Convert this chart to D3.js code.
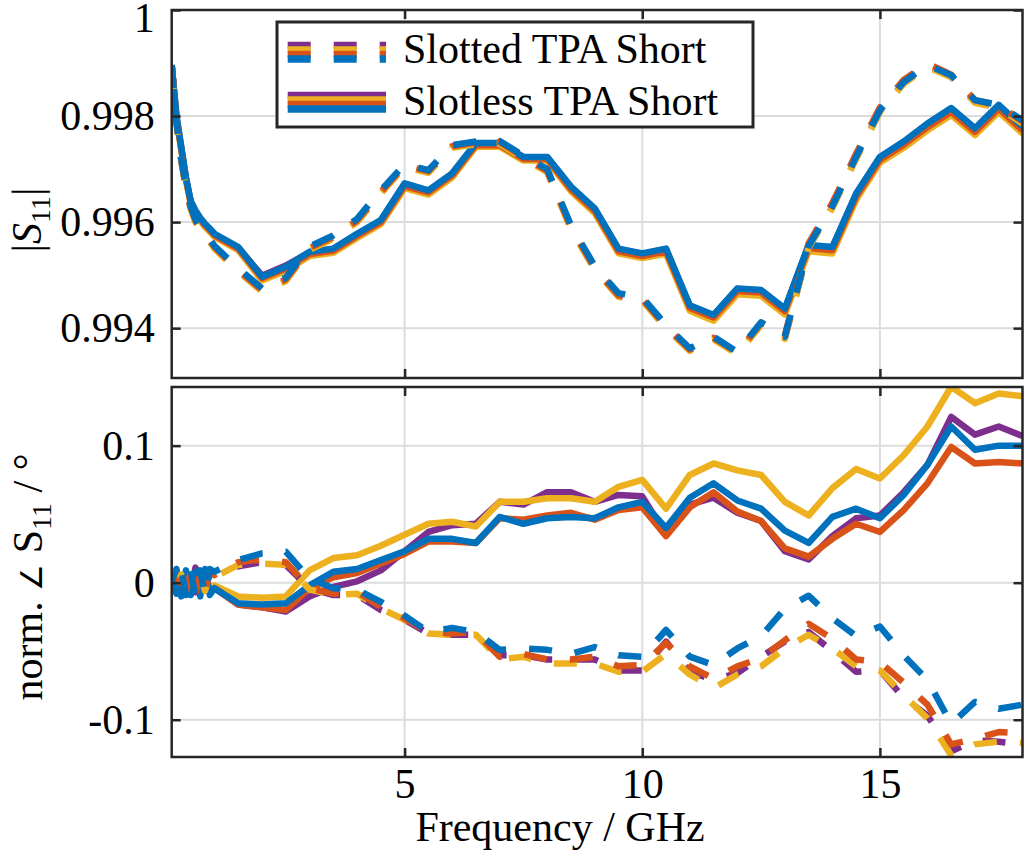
<!DOCTYPE html>
<html>
<head>
<meta charset="utf-8">
<script src="https://cdn.jsdelivr.net/npm/d3@7"></script>
<style>
    body { margin: 0; background: #fff; }
    svg { display: block; font-family: 'Liberation Serif', 'Times New Roman', serif; }
</style>
</head>
<body>
<svg id="chart" width="1025" height="852"></svg>
<script>
// frequency grid in GHz (dense below 1 GHz)
const freq = [0.1, 0.2, 0.3, 0.4, 0.5, 0.6, 0.7, 0.8, 0.9, 1.0,
    1.5, 2, 2.5, 3, 3.5, 4, 4.5, 5, 5.5, 6, 6.5, 7, 7.5, 8, 8.5, 9, 9.5, 10,
    10.5, 11, 11.5, 12, 12.5, 13, 13.5, 14, 14.5, 15, 15.5, 16, 16.5, 17, 17.5, 18];

// |S11|, slotless (solid)
const purpleSolidMag = [0.99895,0.99799,0.99741,0.99683,0.99639,0.99621,0.99607,0.99596,0.99587,0.99577,0.99552,0.99499,0.99518,0.99543,0.99549,0.99577,0.99603,0.99672,0.99659,0.99691,0.99748,0.99748,0.99722,0.99722,0.99666,0.99625,0.99549,0.99540,0.99549,0.99442,0.99424,0.99474,0.99471,0.99436,0.99556,0.99552,0.99653,0.99722,0.99751,0.99785,0.99814,0.99776,0.99820,0.99779];
const yellowSolidMag = [0.99892,0.99794,0.99736,0.99678,0.99634,0.99616,0.99602,0.99591,0.99582,0.99572,0.99547,0.99490,0.99508,0.99536,0.99542,0.99570,0.99596,0.99664,0.99652,0.99684,0.99742,0.99742,0.99716,0.99716,0.99658,0.99617,0.99541,0.99532,0.99540,0.99433,0.99414,0.99464,0.99461,0.99426,0.99545,0.99541,0.99642,0.99712,0.99740,0.99773,0.99802,0.99764,0.99808,0.99767];
const orangeSolidMag = [0.99894,0.99797,0.99739,0.99681,0.99637,0.99619,0.99605,0.99594,0.99585,0.99575,0.99550,0.99494,0.99512,0.99540,0.99546,0.99574,0.99600,0.99668,0.99656,0.99688,0.99745,0.99745,0.99719,0.99719,0.99662,0.99621,0.99545,0.99536,0.99545,0.99438,0.99420,0.99470,0.99467,0.99432,0.99551,0.99547,0.99648,0.99717,0.99746,0.99779,0.99808,0.99770,0.99814,0.99773];
const blueSolidMag = [0.99896,0.99800,0.99742,0.99684,0.99640,0.99622,0.99608,0.99597,0.99588,0.99578,0.99553,0.99497,0.99516,0.99544,0.99550,0.99578,0.99604,0.99673,0.99660,0.99692,0.99749,0.99749,0.99723,0.99723,0.99667,0.99626,0.99550,0.99541,0.99550,0.99443,0.99425,0.99475,0.99472,0.99437,0.99557,0.99553,0.99654,0.99723,0.99752,0.99786,0.99815,0.99777,0.99821,0.99780];

// |S11|, slotted (dashed)
const purpleSlottedMag = [0.99895,0.99789,0.99718,0.99665,0.99627,0.99602,0.99587,0.99577,0.99565,0.99552,0.99509,0.99471,0.99491,0.99550,0.99571,0.99602,0.99656,0.99706,0.99695,0.99742,0.99749,0.99750,0.99722,0.99696,0.99589,0.99512,0.99461,0.99454,0.99402,0.99359,0.99381,0.99352,0.99407,0.99381,0.99553,0.99628,0.99721,0.99809,0.99862,0.99894,0.99874,0.99827,0.99817,0.99788];
const yellowSlottedMag = [0.99894,0.99787,0.99716,0.99663,0.99625,0.99600,0.99585,0.99575,0.99563,0.99550,0.99507,0.99469,0.99489,0.99548,0.99569,0.99600,0.99654,0.99704,0.99693,0.99740,0.99747,0.99748,0.99720,0.99694,0.99587,0.99510,0.99459,0.99452,0.99400,0.99357,0.99379,0.99351,0.99406,0.99380,0.99552,0.99627,0.99720,0.99808,0.99861,0.99893,0.99873,0.99825,0.99815,0.99786];
const orangeSlottedMag = [0.99896,0.99790,0.99719,0.99666,0.99628,0.99603,0.99588,0.99578,0.99566,0.99553,0.99510,0.99472,0.99492,0.99551,0.99572,0.99603,0.99657,0.99707,0.99696,0.99743,0.99750,0.99751,0.99723,0.99697,0.99590,0.99513,0.99462,0.99455,0.99403,0.99360,0.99382,0.99354,0.99410,0.99386,0.99560,0.99636,0.99729,0.99816,0.99868,0.99899,0.99878,0.99830,0.99820,0.99790];
const blueSlottedMag = [0.99896,0.99790,0.99720,0.99668,0.99630,0.99605,0.99590,0.99580,0.99568,0.99555,0.99513,0.99475,0.99495,0.99554,0.99575,0.99606,0.99660,0.99709,0.99698,0.99745,0.99752,0.99753,0.99725,0.99700,0.99594,0.99517,0.99466,0.99458,0.99406,0.99362,0.99384,0.99355,0.99411,0.99384,0.99555,0.99630,0.99723,0.99811,0.99864,0.99896,0.99877,0.99830,0.99821,0.99792];

// normalised phase in degrees, slotless (solid)
const purpleSolidPh = [-0.003,0.007,-0.008,0.008,-0.006,0.011,-0.005,0.009,-0.006,-0.004,-0.016,-0.018,-0.021,-0.010,-0.003,0.001,0.009,0.023,0.037,0.042,0.043,0.059,0.057,0.066,0.066,0.059,0.064,0.063,0.035,0.057,0.062,0.051,0.045,0.023,0.017,0.034,0.047,0.049,0.066,0.086,0.121,0.108,0.114,0.107];
const yellowSolidPh = [-0.004,0.005,-0.007,0.006,-0.006,0.006,-0.006,0.007,-0.005,-0.002,-0.010,-0.011,-0.010,0.009,0.018,0.020,0.027,0.035,0.043,0.0445,0.041,0.059,0.059,0.0616,0.0616,0.059,0.070,0.075,0.054,0.0786,0.087,0.082,0.0786,0.059,0.049,0.069,0.083,0.076,0.093,0.114,0.143,0.131,0.138,0.136];
const orangeSolidPh = [-0.003,0.006,-0.008,0.007,-0.007,0.007,-0.008,0.008,-0.007,-0.004,-0.016,-0.018,-0.020,-0.004,0.004,0.007,0.014,0.021,0.030,0.030,0.029,0.047,0.046,0.049,0.051,0.046,0.053,0.055,0.034,0.055,0.066,0.052,0.045,0.025,0.019,0.032,0.043,0.037,0.053,0.0725,0.099,0.087,0.088,0.087];
const blueSolidPh = [-0.002,0.010,-0.010,0.009,-0.009,0.008,-0.010,0.010,-0.009,-0.004,-0.015,-0.016,-0.015,-0.002,0.008,0.010,0.0165,0.023,0.032,0.032,0.029,0.048,0.043,0.047,0.048,0.047,0.055,0.059,0.040,0.062,0.0725,0.060,0.054,0.038,0.029,0.048,0.054,0.047,0.064,0.086,0.114,0.097,0.100,0.100];

// normalised phase in degrees, slotted (dashed)
const purpleSlottedPh = [0.001,-0.007,0.008,-0.006,0.009,-0.007,0.008,-0.006,0.007,0.0056,0.012,0.015,0.013,-0.004,-0.009,-0.009,-0.020,-0.027,-0.037,-0.038,-0.038,-0.053,-0.053,-0.056,-0.056,-0.056,-0.064,-0.064,-0.043,-0.065,-0.071,-0.066,-0.054,-0.043,-0.036,-0.050,-0.065,-0.064,-0.084,-0.097,-0.123,-0.115,-0.116,-0.118];
const yellowSlottedPh = [-0.002,-0.005,0.006,-0.006,0.006,-0.006,0.006,-0.006,0.006,0.004,0.013,0.014,0.013,-0.005,-0.009,-0.008,-0.019,-0.027,-0.037,-0.038,-0.038,-0.056,-0.054,-0.059,-0.059,-0.059,-0.065,-0.065,-0.052,-0.067,-0.077,-0.067,-0.061,-0.048,-0.038,-0.048,-0.061,-0.064,-0.082,-0.099,-0.126,-0.118,-0.116,-0.117];
const orangeSlottedPh = [0.000,-0.006,0.008,-0.007,0.007,-0.008,0.007,-0.007,0.008,0.0056,0.015,0.017,0.015,-0.004,-0.008,-0.0066,-0.0175,-0.026,-0.036,-0.037,-0.036,-0.054,-0.052,-0.056,-0.056,-0.054,-0.061,-0.060,-0.044,-0.061,-0.070,-0.061,-0.055,-0.042,-0.030,-0.041,-0.056,-0.058,-0.073,-0.089,-0.118,-0.114,-0.109,-0.110];
const blueSlottedPh = [0.002,-0.008,0.010,-0.009,0.009,-0.010,0.009,-0.009,0.010,0.008,0.0165,0.0214,0.0226,0.003,-0.004,-0.005,-0.014,-0.024,-0.036,-0.033,-0.036,-0.049,-0.048,-0.049,-0.052,-0.047,-0.053,-0.054,-0.0345,-0.054,-0.060,-0.048,-0.039,-0.019,-0.0095,-0.026,-0.039,-0.032,-0.053,-0.071,-0.103,-0.087,-0.092,-0.089];

const magTicks = [0.994, 0.996, 0.998, 1];
const magTickLabels = ['0.994', '0.996', '0.998', '1'];
const phTicks = [-0.1, 0, 0.1];
const phTickLabels = ['-0.1', '0', '0.1'];
const freqTicks = [5, 10, 15];
const legendLabels = ['Slotted TPA Short', 'Slotless TPA Short'];

// drawing order: purple first, blue on top
const colors = ['#7E2F8E', '#EDB120', '#D95319', '#0072BD'];
const magSeries = {
    solid: [purpleSolidMag, yellowSolidMag, orangeSolidMag, blueSolidMag],
    dashed: [purpleSlottedMag, yellowSlottedMag, orangeSlottedMag, blueSlottedMag],
};
const phSeries = {
    solid: [purpleSolidPh, yellowSolidPh, orangeSolidPh, blueSolidPh],
    dashed: [purpleSlottedPh, yellowSlottedPh, orangeSlottedPh, blueSlottedPh],
};

const fontSize = 42;
const axisColor = '#262626';
const gridColor = '#dcdcdc';
const lineWidth = 6.5;
const dash = '23,23';

const left = 171.7, right = 1022.5;
const svg = d3.select('#chart');

const x = d3.scaleLinear().domain([0.1, 18]).range([left, right]);

function drawPanel(id, yScale, yTicks, yLabels, series, showXLabels) {
    const [bottom, top] = yScale.range();
    const g = svg.append('g').attr('class', id);

    // grid
    g.append('g')
        .selectAll('line')
        .data(freqTicks)
        .join('line')
        .attr('x1', (d) => x(d))
        .attr('x2', (d) => x(d))
        .attr('y1', top)
        .attr('y2', bottom)
        .attr('stroke', gridColor)
        .attr('stroke-width', 2);
    g.append('g')
        .selectAll('line')
        .data(yTicks)
        .join('line')
        .attr('x1', left)
        .attr('x2', right)
        .attr('y1', (d) => yScale(d))
        .attr('y2', (d) => yScale(d))
        .attr('stroke', gridColor)
        .attr('stroke-width', 2);

    svg.append('clipPath')
        .attr('id', `clip-${id}`)
        .append('rect')
        .attr('x', left)
        .attr('y', top)
        .attr('width', right - left)
        .attr('height', bottom - top);

    const line = d3
        .line()
        .x((d) => x(d[0]))
        .y((d) => yScale(d[1]));

    const lines = g.append('g').attr('clip-path', `url(#clip-${id})`);
    series.solid.forEach((vals, i) => {
        lines.append('path')
            .datum(d3.zip(freq, vals))
            .attr('d', line)
            .attr('fill', 'none')
            .attr('stroke', colors[i])
            .attr('stroke-width', lineWidth)
            .attr('stroke-linejoin', 'round');
    });
    series.dashed.forEach((vals, i) => {
        lines.append('path')
            .datum(d3.zip(freq, vals))
            .attr('d', line)
            .attr('fill', 'none')
            .attr('stroke', colors[i])
            .attr('stroke-width', lineWidth)
            .attr('stroke-linejoin', 'round')
            .attr('stroke-dasharray', dash);
    });

    // ticks pointing inwards on all four sides
    const styleAxis = (sel) => {
        sel.select('.domain').remove();
        sel.selectAll('.tick line').attr('stroke', axisColor).attr('stroke-width', 2.5);
        sel.selectAll('.tick text')
            .attr('fill', '#000')
            .attr('font-size', fontSize)
            .attr('font-family', "'Liberation Serif', 'Times New Roman', serif");
    };

    g.append('g')
        .attr('transform', `translate(${left},0)`)
        .call(
            d3.axisLeft(yScale)
                .tickValues(yTicks)
                .tickSize(-9)
                .tickPadding(17)
                .tickFormat((d, i) => yLabels[i]),
        )
        .call(styleAxis);
    g.append('g')
        .attr('transform', `translate(${right},0)`)
        .call(d3.axisRight(yScale).tickValues(yTicks).tickSize(-9).tickFormat(''))
        .call(styleAxis);
    g.append('g')
        .attr('transform', `translate(0,${top})`)
        .call(d3.axisTop(x).tickValues(freqTicks).tickSize(-9).tickFormat(''))
        .call(styleAxis);
    g.append('g')
        .attr('transform', `translate(0,${bottom})`)
        .call(
            d3.axisBottom(x)
                .tickValues(freqTicks)
                .tickSize(-9)
                .tickPadding(11)
                .tickFormat(showXLabels ? d3.format('d') : ''),
        )
        .call(styleAxis);

    // box
    g.append('rect')
        .attr('x', left)
        .attr('y', top)
        .attr('width', right - left)
        .attr('height', bottom - top)
        .attr('fill', 'none')
        .attr('stroke', axisColor)
        .attr('stroke-width', 2.5);
}

const yMag = d3.scaleLinear().domain([0.99306, 1]).range([378, 10]);
const yPh = d3.scaleLinear().domain([-0.1272, 0.1428]).range([757, 387]);

drawPanel('mag', yMag, magTicks, magTickLabels, magSeries, false);
drawPanel('phase', yPh, phTicks, phTickLabels, phSeries, true);

// top label "1" sits right at the window edge, nudge it down a little
svg.select('.mag').selectAll('.tick text').filter((d) => d === 1).attr('dy', '0.5em');

// axis labels
svg.append('text')
    .attr('x', 560)
    .attr('y', 841)
    .attr('text-anchor', 'middle')
    .attr('font-size', fontSize)
    .text('Frequency / GHz');

const magLabel = svg.append('text')
    .attr('transform', 'translate(41,220) rotate(-90)')
    .attr('text-anchor', 'middle')
    .attr('font-size', fontSize);
magLabel.append('tspan').text('|');
magLabel.append('tspan').attr('font-style', 'italic').text('S');
magLabel.append('tspan').attr('font-size', 28).attr('dy', 9).text('11');
magLabel.append('tspan').attr('dy', -9).text('|');

const phLabel = svg.append('text')
    .attr('transform', 'translate(42,577) rotate(-90)')
    .attr('text-anchor', 'middle')
    .attr('font-size', fontSize);
phLabel.append('tspan').text('norm. ');
phLabel.append('tspan')
    .attr('font-family', "'DejaVu Sans'")
    .attr('font-weight', 200)
    .attr('font-size', 30)
    .text('\u2220');
phLabel.append('tspan').text(' S');
phLabel.append('tspan').attr('font-size', 28).attr('dy', 9).text('11');
phLabel.append('tspan').attr('dy', -9).text(' / \u00b0');

// legend
const legend = svg.append('g').attr('class', 'legend');
legend.append('rect')
    .attr('x', 277)
    .attr('y', 22)
    .attr('width', 476)
    .attr('height', 105)
    .attr('fill', '#fff')
    .attr('stroke', axisColor)
    .attr('stroke-width', 3);

legendLabels.forEach((label, row) => {
    const yBlue = 59 + row * 50;
    colors.forEach((c, i) => {
        legend.append('line')
            .attr('x1', 287.7)
            .attr('x2', 386)
            .attr('y1', yBlue - (3 - i) * 4.5)
            .attr('y2', yBlue - (3 - i) * 4.5)
            .attr('stroke', c)
            .attr('stroke-width', 7.5)
            .attr('stroke-dasharray', row === 0 ? dash : null);
    });
    legend.append('text')
        .attr('x', 403)
        .attr('y', 63 + row * 52)
        .attr('font-size', fontSize)
        .text(label);
});
</script>
</body>
</html>
